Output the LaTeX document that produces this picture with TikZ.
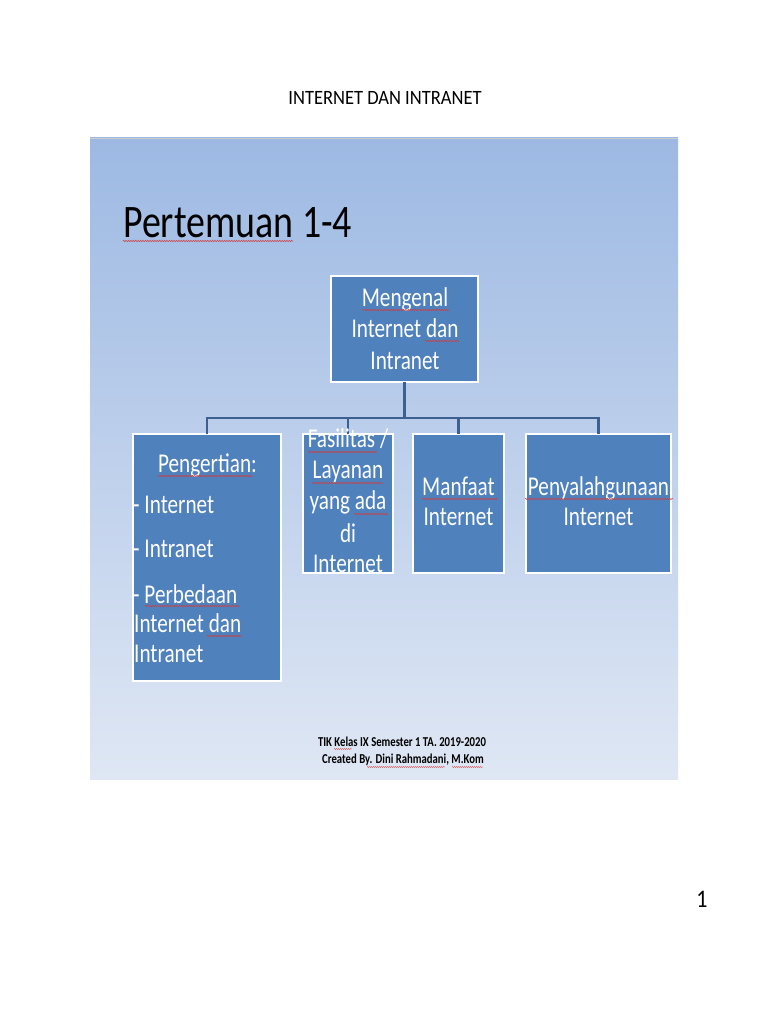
\documentclass[tikz,border=0pt]{standalone}
\usepackage{fontspec}
\usepackage{graphicx}
\usetikzlibrary{decorations.pathmorphing}
\setmainfont{Carlito}
\definecolor{boxblue}{HTML}{4F81BD}
\definecolor{connblue}{HTML}{3D6090}
\definecolor{bgtop}{HTML}{9DB9E3}
\definecolor{bgbot}{HTML}{DFE7F4}
\definecolor{spellred}{HTML}{D23C3C}
\newcommand\vstr[2]{\scalebox{1}[#1]{#2}}
\tikzset{
  box/.style={draw=white, line width=2pt, fill=boxblue, inner sep=0pt, outer sep=0pt},
  lbl/.style={text=white, inner sep=0pt, anchor=base, font=\fontsize{21.2}{25}\selectfont},
  lbll/.style={lbl, anchor=base west},
  conn/.style={draw=connblue, line width=2.4pt},
  foot/.style={inner sep=0pt, anchor=base, font=\fontsize{10.7}{12}\selectfont\bfseries},
  squig/.style={draw=spellred, line width=0.5pt, decorate, decoration={snake, amplitude=0.7pt, segment length=2.4pt}}
}
\begin{document}
\begin{tikzpicture}[x=1pt,y=-1pt]
\useasboundingbox (0,0) rectangle (768,1024);
\fill[white] (0,0) rectangle (768,1024);
% panel
\shade[top color=bgtop, bottom color=bgbot] (90,138) rectangle (678,779);
\draw[gray!40, line width=0.6pt] (90,138.3) -- (678,138.3);

% title and page number
\node[inner sep=0pt, anchor=base, font=\fontsize{18.5}{22}\selectfont] (title) at (385,105) {\vstr{1.1}{INTERNET DAN INTRANET}};
\node[inner sep=0pt, anchor=base, font=\fontsize{22}{26}\selectfont] (pagenum) at (702,907) {\vstr{1.15}{1}};
\node[inner sep=0pt, anchor=base west, font=\fontsize{37.9}{44}\selectfont] (pert) at (123,237) {\vstr{1.23}{Pertemuan 1-4}};

% boxes
\node[box, minimum width=147pt, minimum height=106pt] (top) at (404.5,329) {};
\node[box, minimum width=148pt, minimum height=247pt] (b1) at (207,557.5) {};
\node[box, minimum width=90pt, minimum height=139pt] (b2) at (348,503.5) {};
\node[box, minimum width=91pt, minimum height=139pt] (b3) at (458.5,503.5) {};
\node[box, minimum width=145pt, minimum height=139pt] (b4) at (598.5,503.5) {};

% connectors
\coordinate (bus) at (404.5,418);
\draw[conn] (top.south) -- (bus);
\draw[conn] (b1.north) |- (bus) -| (b4.north);
\draw[conn] (b2.north) -- (b2.north |- bus);
\draw[conn] (b3.north) -- (b3.north |- bus);

% top box text
\node[lbl] (m1) at (405,306) {\vstr{1.28}{Mengenal}};
\node[lbl] (m2) at (405,337) {\vstr{1.28}{Internet dan}};
\node[lbl] (m3) at (405,369) {\vstr{1.28}{Intranet}};

% box 1 text
\node[lbl] (p0) at (207.5,472) {\vstr{1.28}{Pengertian:}};
\node[lbll] (p1) at (133,513) {\vstr{1.28}{- Internet}};
\node[lbll] (p2) at (133,557) {\vstr{1.28}{- Intranet}};
\node[lbll] (p3) at (133,603) {\vstr{1.28}{- Perbedaan}};
\node[lbll] (p4) at (134,632) {\vstr{1.28}{Internet dan}};
\node[lbll] (p5) at (134,662) {\vstr{1.28}{Intranet}};

% box 2 text
\node[lbl] (f1) at (348,447) {\vstr{1.28}{Fasilitas /}};
\node[lbl] (f2) at (348,478) {\vstr{1.28}{Layanan}};
\node[lbl] (f3) at (348,509) {\vstr{1.28}{yang ada}};
\node[lbl] (f4) at (348,542) {\vstr{1.28}{di}};
\node[lbl] (f5) at (348,572) {\vstr{1.28}{Internet}};

% box 3 text
\node[lbl] (mf1) at (458.5,495) {\vstr{1.28}{Manfaat}};
\node[lbl] (mf2) at (458.5,525) {\vstr{1.28}{Internet}};

% box 4 text
\node[lbl] (py1) at (598.5,495) {\vstr{1.28}{Penyalahgunaan}};
\node[lbl] (py2) at (598.5,525) {\vstr{1.28}{Internet}};

% footer
\node[foot] (ft1) at (402,746) {\vstr{1.27}{TIK Kelas IX Semester 1 TA. 2019-2020}};
\node[foot] (ft2) at (403,763) {\vstr{1.27}{Created By. Dini Rahmadani, M.Kom}};

% spell-check underlines
\draw[squig] (123,241) -- (293,241);
\draw[squig] (362,310) -- (449,310);
\draw[squig] (425,341) -- (459,341);
\draw[squig] (158,476) -- (253,476);
\draw[squig] (145,606) -- (240,606);
\draw[squig] (207,636) -- (242,636);
\draw[squig] (308,452) -- (377,452);
\draw[squig] (312,483) -- (383,483);
\draw[squig] (354,514) -- (388,514);
\draw[squig] (422,499) -- (498,499);
\draw[squig] (525,499) -- (673,499);
\draw[squig, line width=0.4pt, decoration={snake, amplitude=0.5pt, segment length=2pt}] (334,749) -- (352,749);
\draw[squig, line width=0.4pt, decoration={snake, amplitude=0.5pt, segment length=2pt}] (367,767) -- (445,767);
\draw[squig, line width=0.4pt, decoration={snake, amplitude=0.5pt, segment length=2pt}] (452,767) -- (483,767);
\end{tikzpicture}
\end{document}
